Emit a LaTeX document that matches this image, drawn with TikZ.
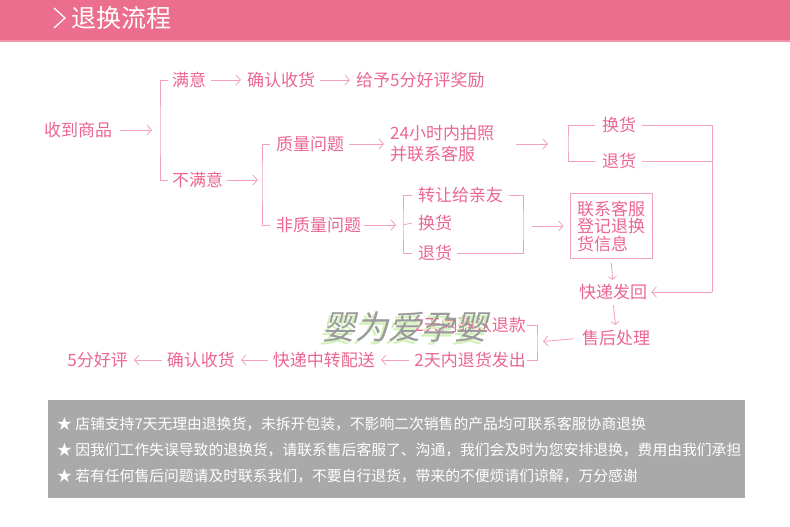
\documentclass[tikz,border=0pt]{standalone}
\usepackage{fontspec}
\usepackage{xcolor}
\usetikzlibrary{arrows.meta}
\newfontfamily\cjk{Noto Sans CJK SC}
\newfontfamily\wmfont[FakeSlant=0.25]{Noto Sans CJK SC}
\definecolor{rosebar}{HTML}{EC6E8F}
\definecolor{roseline}{HTML}{F3A3B9}
\definecolor{rosetext}{HTML}{EC6790}
\definecolor{notegray}{HTML}{A9A9A9}
\definecolor{markgray}{HTML}{9A9A9A}
\definecolor{markgreen}{HTML}{D2F2B8}
\begin{document}
\begin{tikzpicture}[x=1pt, y=-1pt,
  flow/.style={text=rosetext, inner sep=0pt, font=\cjk\fontsize{17}{21}\selectfont},
  note/.style={text=white, inner sep=0pt, anchor=west, font=\cjk\fontsize{14.8}{18}\selectfont},
  link/.style={draw=roseline, line width=0.8pt},
  arr/.style={link, -{Straight Barb[length=4.5pt, width=10pt, line width=0.8pt]}, shorten <=5pt, shorten >=6pt}]
  \useasboundingbox[fill=white] (0,0) rectangle (790,527);
  % header
  \fill[rosebar] (0,0) rectangle (790,40);
  \fill[rosebar!75!white] (0,40) rectangle (790,42);
  \draw[white, line width=1.3pt] (54,8) -- (65,18) -- (54,28);
  \node[anchor=west, text=white, inner sep=0pt, font=\cjk\fontsize{25}{28}\selectfont] (title) at (71,18) {退换流程};
  % top branch
  \node[flow, anchor=west] (recv) at (44,130) {收到商品};
  \coordinate (sp1) at (160,130);
  \node[flow, anchor=west] (ok) at (172,80) {满意};
  \node[flow, anchor=west] (confirm1) at (247,80) {确认收货};
  \node[flow, anchor=west] (reward) at (356,80) {给予5分好评奖励};
  \node[flow, anchor=west] (notok) at (172,180) {不满意};
  \draw[arr, shorten <=8pt, shorten >=8pt] (recv.east) -- (sp1);
  \draw[link] ([xshift=-4]ok.west) -| (sp1) |- ([xshift=-4]notok.west);
  \draw[arr] (ok) -- (confirm1);
  \draw[arr] (confirm1) -- (reward);
  % quality
  \coordinate (sp2) at (262,180);
  \node[flow, anchor=west] (qual) at (276,144) {质量问题};
  \node[flow, anchor=west] (nqual) at (276,225) {非质量问题};
  \draw[arr, shorten <=4pt, shorten >=4pt] (notok.east) -- (sp2);
  \draw[link] ([xshift=-6]qual.west) -| (sp2) |- ([xshift=-6]nqual.west);
  \node[flow, anchor=west, align=left] (photo) at (390,144) {24小时内拍照\\并联系客服};
  \draw[arr] (qual) -- (photo);
  \coordinate (sp3) at (568,144);
  \node[flow, anchor=west] (swap1) at (602,125) {换货};
  \node[flow, anchor=west] (ret1) at (602,161) {退货};
  \draw[arr, shorten <=22pt, shorten >=20pt] (photo.east) -- (sp3);
  \draw[link] ([xshift=-7]swap1.west) -| (sp3) |- ([xshift=-7]ret1.west);
  % non quality
  \coordinate (sp4) at (403,225);
  \node[flow, anchor=west] (gift) at (418,195) {转让给亲友};
  \node[flow, anchor=west] (swap2) at (418,223) {换货};
  \node[flow, anchor=west] (ret2) at (418,253) {退货};
  \draw[arr, shorten <=3pt, shorten >=7pt] (nqual.east) -- (sp4);
  \draw[link] ([xshift=-6]gift.west) -| (sp4) |- ([xshift=-6]ret2.west);
  \draw[link] ([xshift=-6]swap2.west) -- (sp4);
  \coordinate (sp5) at (523,226);
  \draw[link] ([xshift=6]gift.east) -| (sp5) |- ([xshift=5]ret2.east);
  \node[draw=roseline, line width=0.8pt, text=rosetext, align=left, inner sep=7pt,
    font=\cjk\fontsize{17}{17.5}\selectfont] (info) at (611,226) {联系客服\\登记退换\\货信息};
  \draw[arr, shorten <=9pt, shorten >=6pt] (sp5) -- (info);
  % return path
  \node[flow] (back) at (613,292) {快递发回};
  \node[flow] (service) at (616,338) {售后处理};
  \draw[arr, shorten <=4pt, shorten >=4pt, -{Straight Barb[length=3pt, width=8pt, line width=0.8pt]}] (info.south) -- (back.north);
  \draw[arr, shorten <=5pt, shorten >=5pt, -{Straight Barb[length=3pt, width=8pt, line width=0.8pt]}] (back.south) -- (service.north);
  \coordinate (sp6) at (712,292);
  \draw[link] ([xshift=6]swap1.east) -| (sp6);
  \draw[link] ([xshift=6]ret1.east) -- (ret1.east -| sp6);
  \draw[arr, shorten <=0pt, shorten >=4pt] (sp6) -- (back.east);
  \coordinate (sp7) at (537,342);
  \node[flow, anchor=east] (refund) at (526,325) {2天内确认退款};
  \node[flow, anchor=east] (sendout) at (526,360) {2天内退货发出};
  \draw[arr, shorten <=8pt, shorten >=6pt] (service.west) -- (sp7);
  \draw[link] ([xshift=1]refund.east) -| (sp7) |- ([xshift=1]sendout.east);
  \node[flow, anchor=east] (transit) at (375,360) {快递中转配送};
  \node[flow, anchor=east] (confirm2) at (235,360) {确认收货};
  \node[flow, anchor=east] (praise) at (128,360) {5分好评};
  \draw[arr] (sendout) -- (transit);
  \draw[arr] (transit) -- (confirm2);
  \draw[arr] (confirm2) -- (praise);
  % watermark
  \node[text=markgreen, font=\wmfont\fontsize{33}{36}\selectfont] at (402,330) {婴为爱孕婴};
  \node[text=markgray, font=\wmfont\fontsize{33}{36}\selectfont] (mark) at (405,327) {婴为爱孕婴};
  % notes
  \fill[notegray] (48,400) rectangle (745,498);
  \node[note] (n1) at (57,424) {★ 店铺支持7天无理由退换货，未拆开包装，不影响二次销售的产品均可联系客服协商退换};
  \node[note] (n2) at (57,450) {★ 因我们工作失误导致的退换货，请联系售后客服了、沟通，我们会及时为您安排退换，费用由我们承担};
  \node[note] (n3) at (57,476) {★ 若有任何售后问题请及时联系我们，不要自行退货，带来的不便烦请们谅解，万分感谢};
\end{tikzpicture}
\end{document}
